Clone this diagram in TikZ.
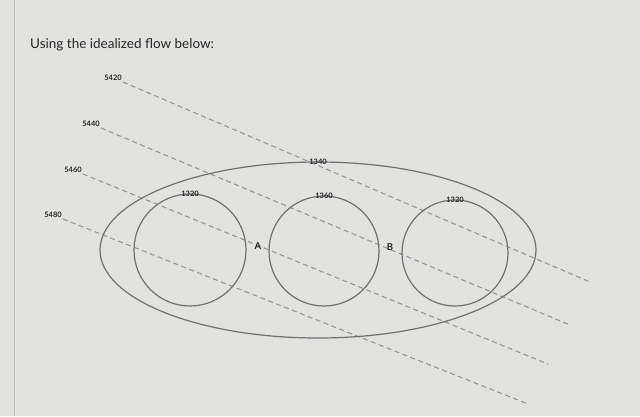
\documentclass[tikz,border=0pt]{standalone}
\usepackage{fontspec}
\setmainfont{Lato}
\usetikzlibrary{positioning}
\definecolor{paper}{HTML}{E2E2E0}
\definecolor{pen}{HTML}{707070}
\definecolor{dashgray}{HTML}{959595}

\begin{document}
\begin{tikzpicture}[x=1pt,y=-1pt]
\tikzstyle{head}=[font=\fontsize{13.5}{15}\selectfont, text=black!85, anchor=west, inner sep=0pt]
\tikzstyle{level}=[font=\fontsize{7.5}{8}\selectfont\bfseries, text=black!85, inner sep=1pt]
\tikzstyle{flowline}=[draw=dashgray, line width=1.1pt, dash pattern=on 5pt off 3.5pt]
\tikzstyle{cell}=[draw=pen, line width=1.2pt]
\tikzstyle{spot}=[font=\fontsize{9.5}{10}\selectfont\bfseries, text=black!85, inner sep=0pt]

	\useasboundingbox[fill=paper] (0,0) rectangle (640,416);
	\draw[black!25] (14,0) -- (14,416);

	\node[head] (title) at (30,45) {Using the idealized flow below:};

	% head contours
	\node[level] (l5420) at (113,78)  {5420};
	\node[level] (l5440) at (91,124)  {5440};
	\node[level] (l5460) at (73,170)  {5460};
	\node[level] (l5480) at (53,215)  {5480};
	\coordinate (e5420) at (590,282);
	\coordinate (e5440) at (570,325);
	\coordinate (e5460) at (548,364);
	\coordinate (e5480) at (528,404);
	\draw[flowline] (l5420.south east) -- (e5420);
	\draw[flowline] (l5440.south east) -- (e5440);
	\draw[flowline] (l5460.south east) -- (e5460);
	\draw[flowline] (l5480.south east) -- (e5480);

	% cells
	\draw[cell] (318,250) ellipse [x radius=218pt, y radius=88pt];
	\draw[cell] (190,250) circle [radius=56pt];
	\draw[cell] (324,251) circle [radius=55pt];
	\draw[cell] (455,253) circle [radius=53pt];

	\node[level] (c1340) at (318,162) {1340};
	\node[level] (c1320a) at (190,194) {1320};
	\node[level] (c1360) at (324,196) {1360};
	\node[level] (c1320b) at (455,200) {1320};

	\node[spot] (A) at (258,246) {A};
	\node[spot] (B) at (390,247) {B};
\end{tikzpicture}
\end{document}
